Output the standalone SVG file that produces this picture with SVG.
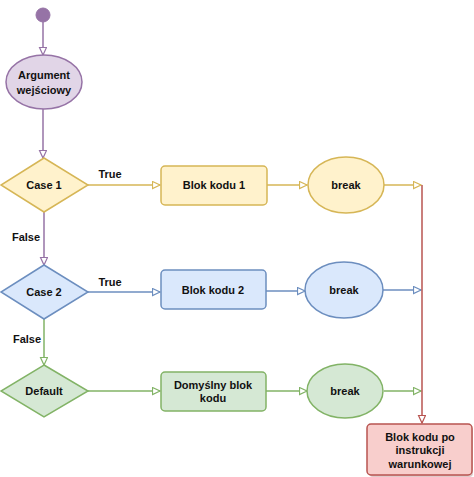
<svg xmlns="http://www.w3.org/2000/svg" width="474" height="477" viewBox="0 0 474 477">
<defs>
<style>
text{font-family:"Liberation Sans",Arial,sans-serif;font-weight:bold;font-size:11px;fill:#111;text-anchor:middle;dominant-baseline:central}
.c{fill:none;stroke-width:1.5}
.p{stroke:#9673a6}.y{stroke:#d6b656}.b{stroke:#6c8ebf}.g{stroke:#82b366}.r{stroke:#b85450}
.n{stroke-width:1.5}
</style>
<marker id="mp" markerWidth="10" markerHeight="10" refX="8" refY="4" orient="auto" markerUnits="userSpaceOnUse"><path d="M0.5,0.5 L8,4 L0.5,7.5 Z" fill="#fff" stroke="#9673a6" stroke-width="1.2"/></marker>
<marker id="my" markerWidth="10" markerHeight="10" refX="8" refY="4" orient="auto" markerUnits="userSpaceOnUse"><path d="M0.5,0.5 L8,4 L0.5,7.5 Z" fill="#fff" stroke="#d6b656" stroke-width="1.2"/></marker>
<marker id="mb" markerWidth="10" markerHeight="10" refX="8" refY="4" orient="auto" markerUnits="userSpaceOnUse"><path d="M0.5,0.5 L8,4 L0.5,7.5 Z" fill="#fff" stroke="#6c8ebf" stroke-width="1.2"/></marker>
<marker id="mg" markerWidth="10" markerHeight="10" refX="8" refY="4" orient="auto" markerUnits="userSpaceOnUse"><path d="M0.5,0.5 L8,4 L0.5,7.5 Z" fill="#fff" stroke="#82b366" stroke-width="1.2"/></marker>
<marker id="mr" markerWidth="10" markerHeight="10" refX="8" refY="4" orient="auto" markerUnits="userSpaceOnUse"><path d="M0.5,0.5 L8,4 L0.5,7.5 Z" fill="#fff" stroke="#b85450" stroke-width="1.2"/></marker>
</defs>
<rect width="474" height="477" fill="#fff"/>
<g id="connectors">
<path class="c p" d="M43,22 V55" marker-end="url(#mp)"/>
<path class="c p" d="M43,109 V158" marker-end="url(#mp)"/>
<path class="c y" d="M88,185 H160" marker-end="url(#my)"/>
<path class="c y" d="M267,185 H307" marker-end="url(#my)"/>
<path class="c y" d="M384,185 H421" marker-end="url(#my)"/>
<path class="c p" d="M44,212 V265" marker-end="url(#mp)"/>
<path class="c b" d="M88,292 H160" marker-end="url(#mb)"/>
<path class="c b" d="M266,291 H305" marker-end="url(#mb)"/>
<path class="c b" d="M383,290 H421" marker-end="url(#mb)"/>
<path class="c g" d="M44,319 V365" marker-end="url(#mg)"/>
<path class="c g" d="M88,391 H160" marker-end="url(#mg)"/>
<path class="c g" d="M266,391 H307" marker-end="url(#mg)"/>
<path class="c g" d="M384,391 H421" marker-end="url(#mg)"/>
<path class="c r" d="M422,185 V423" marker-end="url(#mr)"/>
<text x="110" y="174">True</text>
<text x="26" y="237">False</text>
<text x="110" y="282">True</text>
<text x="27" y="339">False</text>
</g>
<g id="start"><circle cx="43" cy="15" r="7" fill="#9673a6" stroke="#9673a6"/></g>
<g id="argument"><ellipse class="n" cx="44" cy="82" rx="38" ry="27" fill="#e1d5e7" stroke="#9673a6"/><text x="44" y="75">Argument</text><text x="44" y="90">wejściowy</text></g>
<g id="case1"><path class="n" d="M44,158 L88,185 L44,212 L1,185 Z" fill="#fff2cc" stroke="#d6b656"/><text x="44" y="185">Case 1</text></g>
<g id="blok1"><rect class="n" x="161" y="166" width="106" height="39" rx="4" fill="#fff2cc" stroke="#d6b656"/><text x="214" y="185">Blok kodu 1</text></g>
<g id="break1"><ellipse class="n" cx="346" cy="185" rx="38" ry="28" fill="#fff2cc" stroke="#d6b656"/><text x="346" y="185">break</text></g>
<g id="case2"><path class="n" d="M44,265 L88,292 L44,319 L1,292 Z" fill="#dae8fc" stroke="#6c8ebf"/><text x="44" y="292">Case 2</text></g>
<g id="blok2"><rect class="n" x="161" y="270" width="105" height="39" rx="4" fill="#dae8fc" stroke="#6c8ebf"/><text x="213" y="290">Blok kodu 2</text></g>
<g id="break2"><ellipse class="n" cx="344" cy="290" rx="39" ry="28" fill="#dae8fc" stroke="#6c8ebf"/><text x="344" y="290">break</text></g>
<g id="default"><path class="n" d="M44,365 L88,391 L44,417 L1,391 Z" fill="#d5e8d4" stroke="#82b366"/><text x="44" y="391">Default</text></g>
<g id="blok3"><rect class="n" x="161" y="372" width="105" height="39" rx="4" fill="#d5e8d4" stroke="#82b366"/><text x="213" y="385">Domyślny blok</text><text x="213" y="398">kodu</text></g>
<g id="break3"><ellipse class="n" cx="345" cy="391" rx="38" ry="27" fill="#d5e8d4" stroke="#82b366"/><text x="345" y="391">break</text></g>
<g id="final"><rect x="369" y="427" width="104" height="50" rx="4" fill="#c9a9a8" opacity="0.6"/><rect class="n" x="367" y="424" width="105" height="51" rx="4" fill="#f8cecc" stroke="#b85450"/><text x="420" y="437">Blok kodu po</text><text x="420" y="450">instrukcji</text><text x="420" y="464">warunkowej</text></g>
</svg>
